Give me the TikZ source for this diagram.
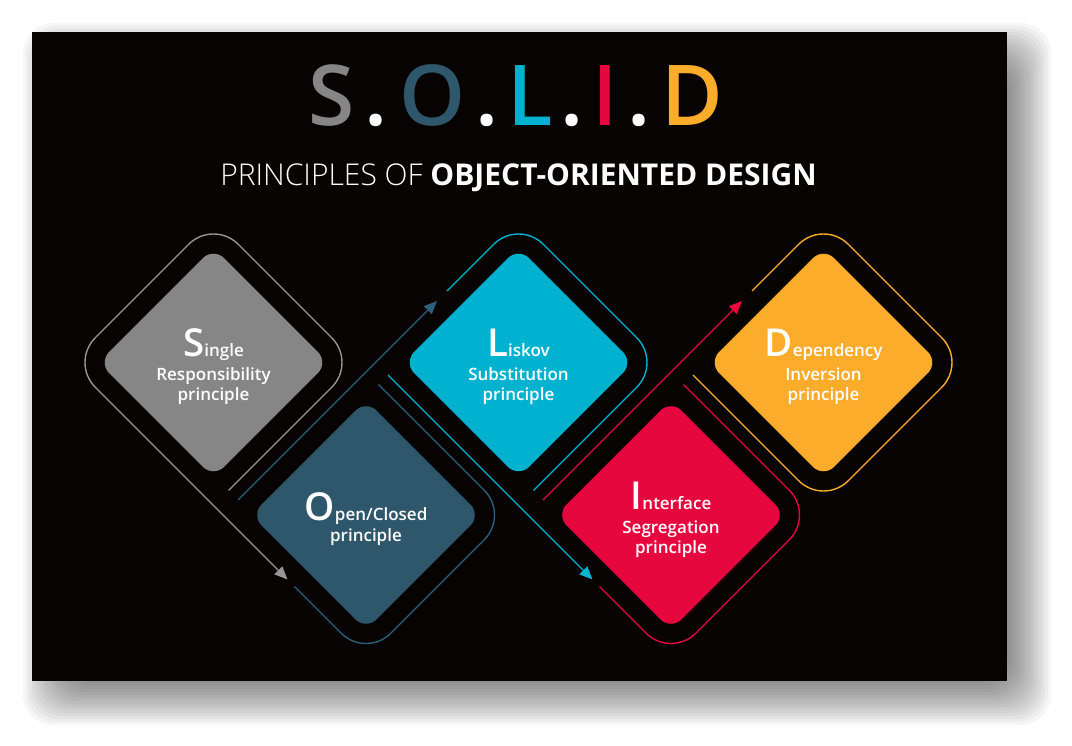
\documentclass[tikz,border=0pt]{standalone}
\usepackage{fontspec}
\usetikzlibrary{arrows.meta}
\setmainfont{Open Sans}
\IfFontExistsTF{Open Sans Light}{\newfontfamily\oslight{Open Sans Light}}{\newfontfamily\oslight{Open Sans}}
\IfFontExistsTF{Open Sans Semibold}{\newfontfamily\ossemi{Open Sans Semibold}}{%
  \IfFontExistsTF{Open Sans SemiBold}{\newfontfamily\ossemi{Open Sans SemiBold}}{\newfontfamily\ossemi{Open Sans}[FakeBold=1.2]}}
\newcommand\bigc[1]{{\fontsize{38.5}{40}\selectfont #1}}
\definecolor{bgc}{RGB}{7,3,2}
\definecolor{cS}{RGB}{134,134,134}
\definecolor{rS}{RGB}{150,150,150}
\definecolor{cO}{RGB}{47,87,107}
\definecolor{rO}{RGB}{45,95,122}
\definecolor{cL}{RGB}{0,178,207}
\definecolor{cI}{RGB}{230,7,62}
\definecolor{cD}{RGB}{251,172,42}
\begin{document}
\begin{tikzpicture}[x=1pt,y=-1pt,
  ring/.style={line width=1.4pt, rounded corners=35pt},
  arr/.style={-{Triangle[length=13pt,width=11pt]}},
  tile/.style={rotate=45, minimum size=162.6pt, inner sep=0pt, rounded corners=15pt, draw=none},
  lbl/.style={text=white, font=\ossemi\fontsize{17}{20}\selectfont, inner sep=0pt, anchor=base},
  ttl/.style={font=\ossemi\fontsize{84}{84}\selectfont, inner sep=0pt, anchor=base}]
\useasboundingbox (0,0) rectangle (1072,746);
\fill[white] (0,0) rectangle (1072,746);
% soft shadow
\foreach \e in {-27,-24,...,27}{
  \fill[black, fill opacity=0.036, rounded corners=30pt] ({50-\e},{50-\e}) rectangle ({1024+\e},{698+\e});
}
\fill[bgc] (32,32) rectangle (1006.5,680.5);
% title
\node[ttl, text=cS] (tS) at (332,125.7) {S};
\node[ttl, text=white] (d1) at (376,125.7) {.};
\node[ttl, text=cO] (tO) at (433,125.7) {O};
\node[ttl, text=white] (d2) at (487,125.7) {.};
\node[ttl, text=cL] (tL) at (530,125.7) {L};
\node[ttl, text=white] (d3) at (572,125.7) {.};
\node[ttl, text=cI] (tI) at (605,125.7) {I};
\node[ttl, text=white] (d4) at (639,125.7) {.};
\node[ttl, text=cD] (tD) at (692,125.7) {D};
\node[inner sep=0pt, anchor=base, text=white, font=\fontsize{30}{30}\selectfont] (sub) at (518.5,186)
  {{\oslight PRINCIPLES OF }\textbf{OBJECT-ORIENTED DESIGN}};
% rings and connectors, in diagonal (a,b) coordinates
\begin{scope}[x={(0.5pt,-0.5pt)}, y={(0.5pt,0.5pt)}]
  \coordinate (S-a) at (719,-262);
  \coordinate (S-b) at (867,-292);
  \coordinate (O-a) at (738,-262);
  \coordinate (O-b) at (738,136);
  \coordinate (L-a) at (763,13);
  \coordinate (L-b) at (1172,13);
  \coordinate (I-a) at (1043,43);
  \coordinate (I-b) at (1043,441);
  \draw[ring, rS, arr] (S-a) -- (719,-6) -- (433,-6) -- (433,-292) -- (S-b);
  \draw[ring, rO, arr] (O-a) -- (O-b);
  \draw[ring, rO] (881,-292) -- (1024,-292) -- (1024,-6) -- (763,-6);
  \draw[ring, cL] (738,156) -- (738,299) -- (1024,299) -- (1024,43);
  \draw[ring, cL, arr] (L-a) -- (L-b);
  \draw[ring, cI, arr] (I-a) -- (I-b);
  \draw[ring, cI] (1186,13) -- (1329,13) -- (1329,299) -- (1068,299);
  \draw[ring, cD] (1043,461) -- (1043,604) -- (1329,604) -- (1329,318) -- (1068,318);
\end{scope}
% tiles
\node[tile, fill=cS] (S) at (213.5,362.5) {};
\node[tile, fill=cO] (O) at (366,515) {};
\node[tile, fill=cL] (L) at (518.5,362.5) {};
\node[tile, fill=cI] (I) at (671,515) {};
\node[tile, fill=cD] (D) at (823.5,362.5) {};
% labels
\node[lbl] (S1) at (213.5,356.5) {\bigc{S}ingle};
\node[lbl] (S2) at (213.5,380.5) {Responsibility};
\node[lbl] (S3) at (213.5,400.5) {principle};
\node[lbl] (O1) at (366,520) {\bigc{O}pen/Closed};
\node[lbl] (O2) at (366,541) {principle};
\node[lbl] (L1) at (518.5,356.5) {\bigc{L}iskov};
\node[lbl] (L2) at (518.5,380.5) {Substitution};
\node[lbl] (L3) at (518.5,400.5) {principle};
\node[lbl] (I1) at (671,509) {\bigc{I}nterface};
\node[lbl] (I2) at (671,533) {Segregation};
\node[lbl] (I3) at (671,553) {principle};
\node[lbl] (D1) at (823.5,356.5) {\bigc{D}ependency};
\node[lbl] (D2) at (823.5,380.5) {Inversion};
\node[lbl] (D3) at (823.5,400.5) {principle};
\end{tikzpicture}
\end{document}
